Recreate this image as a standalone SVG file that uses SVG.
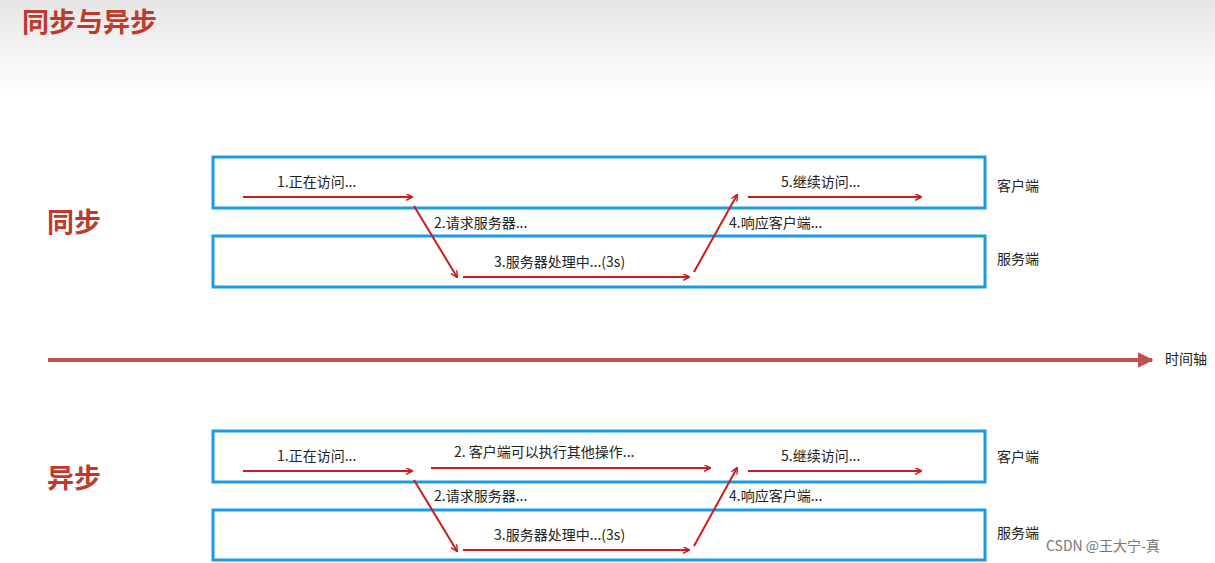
<svg xmlns="http://www.w3.org/2000/svg" width="1215" height="563" viewBox="0 0 1215 563">
<style>
text{font-family:"Microsoft YaHei","Noto Sans CJK SC",sans-serif}
.t{font-size:14px;fill:#222}
.h{font-size:27px;font-weight:bold;fill:#c0392b}
.box{fill:#fff;stroke:#1a9be6;stroke-width:3}
.a{stroke:#c81e1e;stroke-width:2;fill:none;marker-end:url(#v)}
</style>
<defs>
<linearGradient id="g" x1="0" y1="0" x2="0" y2="1"><stop offset="0" stop-color="#e6e6e6"/><stop offset="1" stop-color="#fff"/></linearGradient>
<marker id="v" viewBox="0 0 10 10" refX="9" refY="5" markerWidth="7" markerHeight="7" orient="auto" markerUnits="userSpaceOnUse"><path d="M0,0 L10,5 L0,10" fill="none" stroke="#c81e1e" stroke-width="2" transform="scale(1)"/></marker>
<marker id="f" viewBox="0 0 10 10" refX="9" refY="5" markerWidth="4" markerHeight="4" orient="auto"><path d="M0,0 L10,5 L0,10 z" fill="#c0504d"/></marker>
</defs>
<rect width="1215" height="563" fill="#fff"/>
<rect width="1215" height="95" fill="url(#g)"/>
<text x="22" y="32" class="h" font-size="28">同步与异步</text>
<g id="sync">
<text x="47" y="232" class="h">同步</text>
<rect id="sync-client" class="box" x="213" y="157" width="772" height="51"/>
<rect id="sync-server" class="box" x="213" y="236" width="772" height="51"/>
<text x="997" y="191" class="t">客户端</text>
<text x="997" y="264" class="t">服务端</text>
</g>
<g id="async">
<text x="47" y="488" class="h">异步</text>
<rect id="async-client" class="box" x="213" y="431" width="772" height="51"/>
<rect id="async-server" class="box" x="213" y="510" width="772" height="50"/>
<text x="997" y="462" class="t">客户端</text>
<text x="997" y="538" class="t">服务端</text>
</g>
<g id="connectors">
<path class="a" d="M243,197 H412"/>
<path class="a" d="M414,206 L457,277"/>
<path class="a" d="M463,277 H689"/>
<path class="a" d="M694,272 L737,195"/>
<path class="a" d="M748,197 H921"/>
<path class="a" d="M243,471 H412"/>
<path class="a" d="M414,480 L457,551"/>
<path class="a" d="M463,550 H689"/>
<path class="a" d="M694,546 L737,468"/>
<path class="a" d="M748,471 H921"/>
<path class="a" d="M431,468 H710"/>
<path d="M48,360 H1152" stroke="#c0504d" stroke-width="4" marker-end="url(#f)"/>
</g>
<g id="labels">
<text x="277" y="187" class="t">1.正在访问...</text>
<text x="434" y="228" class="t">2.请求服务器...</text>
<text x="494" y="267" class="t">3.服务器处理中...(3s)</text>
<text x="729" y="228" class="t">4.响应客户端...</text>
<text x="781" y="187" class="t">5.继续访问...</text>
<text x="277" y="461" class="t">1.正在访问...</text>
<text x="454" y="457" class="t">2. 客户端可以执行其他操作...</text>
<text x="434" y="501" class="t">2.请求服务器...</text>
<text x="494" y="540" class="t">3.服务器处理中...(3s)</text>
<text x="729" y="501" class="t">4.响应客户端...</text>
<text x="781" y="461" class="t">5.继续访问...</text>
<text x="1165" y="364" class="t">时间轴</text>
<text x="1046" y="551" class="t" fill="#888" style="fill:#777">CSDN @王大宁-真</text>
</g>
</svg>
